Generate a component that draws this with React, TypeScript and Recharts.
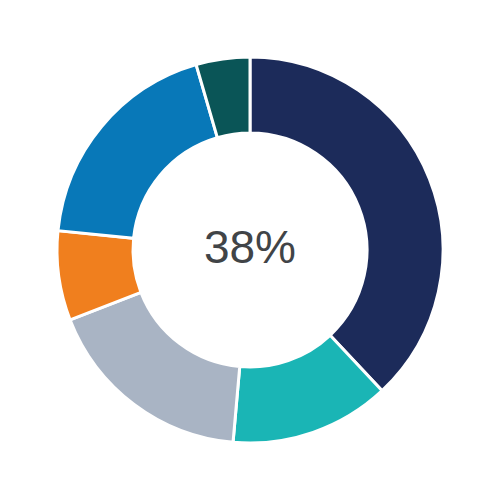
import { PieChart, Pie, Cell } from "recharts";

const names = ["A", "B", "C", "D", "E", "F"];
const values = [38, 13.4, 17.7, 7.5, 18.9, 4.5];
const colors = ["#1c2b5a", "#1ab5b5", "#a9b4c4", "#f07f1e", "#0878b8", "#0a5557"];
const centerLabel = "38%";

const data = names.map((name, i) => ({ name, value: values[i] }));

export default function App() {
  return (
    <div style={{ position: "absolute", left: 0, top: 0, width: 500, height: 500, background: "#fff" }}>
      <PieChart width={500} height={500} margin={{ top: 0, right: 0, bottom: 0, left: 0 }}>
        <Pie
          data={data}
          dataKey="value"
          cx={250}
          cy={250}
          innerRadius={117}
          outerRadius={193}
          startAngle={90}
          endAngle={-270}
          stroke="#ffffff"
          strokeWidth={3}
          isAnimationActive={false}
        >
          {data.map((d, i) => (
            <Cell key={d.name} fill={colors[i]} />
          ))}
        </Pie>
        <text
          x={250}
          y={247}
          textAnchor="middle"
          dominantBaseline="central"
          fontFamily="Liberation Sans, Arial, sans-serif"
          fontSize={46}
          fill="#414447"
        >
          {centerLabel}
        </text>
      </PieChart>
    </div>
  );
}
